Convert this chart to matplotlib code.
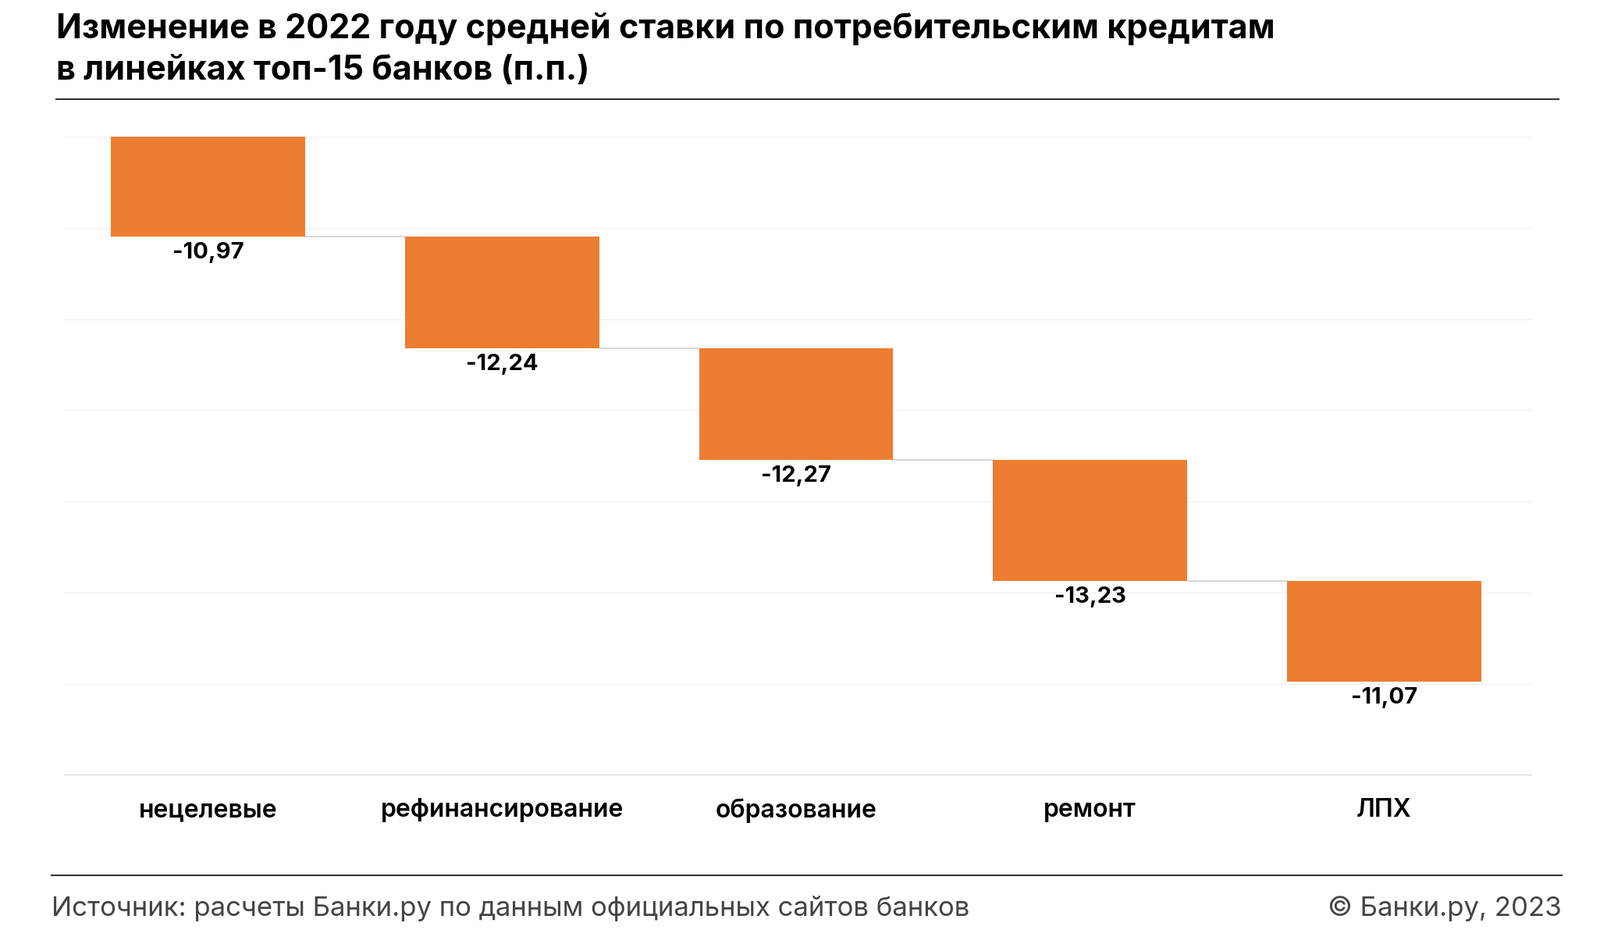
import matplotlib
matplotlib.use("Agg")
import matplotlib.pyplot as plt
import numpy as np

categories = ["нецелевые", "рефинансирование", "образование", "ремонт", "ЛПХ"]
values = [-10.97, -12.24, -12.27, -13.23, -11.07]
labels = ["-10,97", "-12,24", "-12,27", "-13,23", "-11,07"]

fig = plt.figure(figsize=(20.5, 12), dpi=100)
ax = fig.add_axes([0.040, 0.173, 0.917, 0.681])

x = np.arange(len(values))
ends = np.cumsum(values)
starts = ends - np.array(values)
w = 0.66
ax.bar(x, values, bottom=starts, width=w, color="#ED7D31", zorder=3)
for i in range(len(values) - 1):
    ax.plot([x[i] + w / 2, x[i + 1] - w / 2], [ends[i], ends[i]], color="#d0d0d0", lw=1.2, zorder=2)
for i, (e, l) in enumerate(zip(ends, labels)):
    ax.annotate(l, (x[i], e), xytext=(0, -5), textcoords="offset points",
                ha="center", va="top", fontsize=21, fontweight="bold", family="Inter")

ax.set_ylim(-70, 0)
ax.set_xlim(-0.49, 4.5)
ax.set_yticks(np.arange(-70, 1, 10))
ax.yaxis.grid(True, color="#f0f0f0", lw=1)
ax.set_axisbelow(True)
ax.tick_params(left=False, labelleft=False, bottom=False)
ax.set_xticks(x)
ax.set_xticklabels(categories, fontsize=23, family="Inter", fontweight="semibold")
ax.tick_params(axis="x", pad=18)
for s in ["top", "right", "left"]:
    ax.spines[s].set_visible(False)
ax.spines["bottom"].set_color("#d8d8d8")

fig.text(0.035, 0.969, "Изменение в 2022 году средней ставки по потребительским кредитам",
         fontsize=31, fontweight="bold", family="Inter", va="center")
fig.text(0.035, 0.925, "в линейках топ-15 банков (п.п.)",
         fontsize=31, fontweight="bold", family="Inter", va="center")
fig.add_artist(plt.Line2D([0.035, 0.974], [0.894, 0.894], color="#333333", lw=1.5))
fig.add_artist(plt.Line2D([0.032, 0.976], [0.066, 0.066], color="#333333", lw=1.5))
fig.text(0.032, 0.030, "Источник: расчеты Банки.ру по данным официальных сайтов банков",
         fontsize=25, family="Inter", color="#444444", va="center")
fig.text(0.976, 0.030, "© Банки.ру, 2023", fontsize=25, family="Inter",
         color="#444444", va="center", ha="right")

fig.savefig("out.png", dpi=100)
